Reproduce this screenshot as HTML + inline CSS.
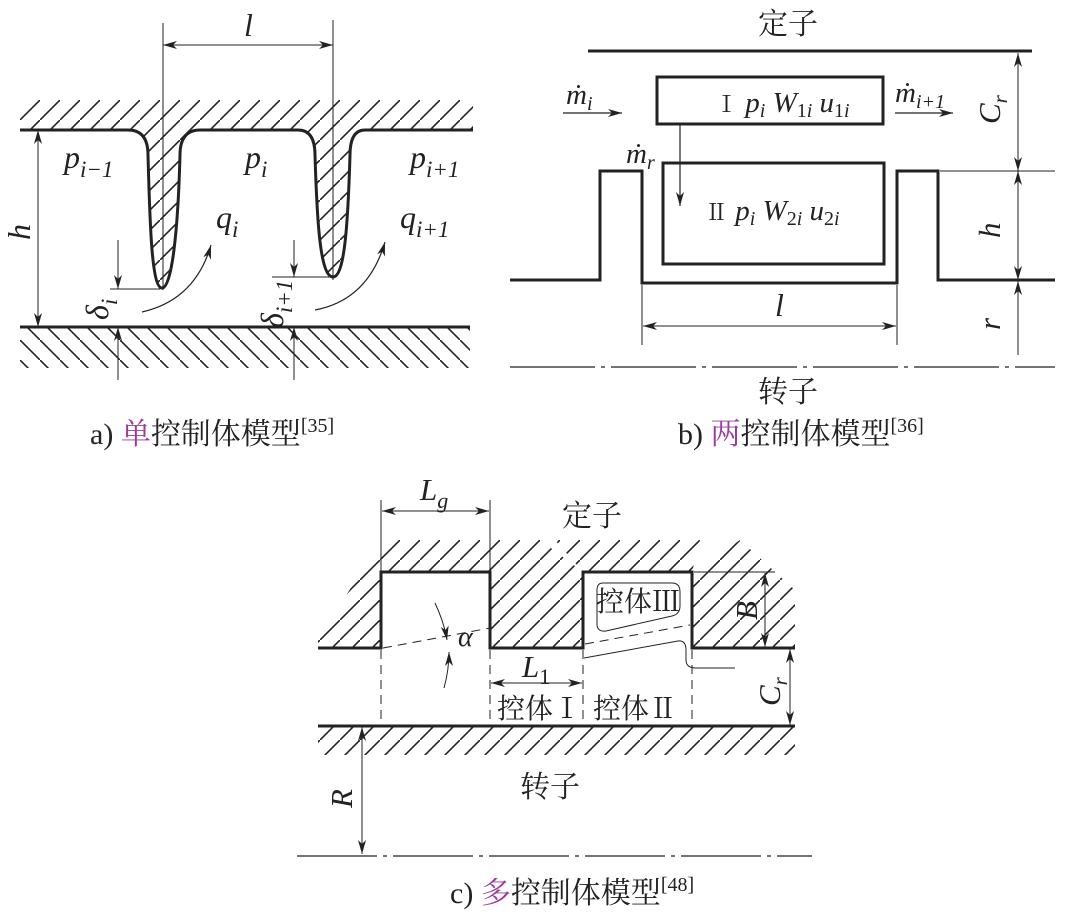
<!DOCTYPE html>
<html><head><meta charset="utf-8"><style>
html,body{margin:0;padding:0;background:#fff;}
svg{display:block;}
text{font-family:"Liberation Serif","Noto Serif CJK SC",serif;fill:#222;}
.it{font-style:italic;}
</style></head><body>
<svg width="1071" height="916" viewBox="0 0 1071 916" xmlns="http://www.w3.org/2000/svg">
<defs>
<pattern id="hs" patternUnits="userSpaceOnUse" width="20" height="20"><line x1="-1" y1="21" x2="21" y2="-1" stroke="#222" stroke-width="1.6"/></pattern>
<pattern id="hb" patternUnits="userSpaceOnUse" width="20" height="20"><line x1="-1" y1="-1" x2="21" y2="21" stroke="#222" stroke-width="1.6"/></pattern>
<marker id="ar" viewBox="0 0 14 8" refX="14" refY="4" markerWidth="14" markerHeight="8" orient="auto-start-reverse" markerUnits="userSpaceOnUse"><path d="M0,0 L14,4 L0,8 L4,4 Z" fill="#222"/></marker>
</defs>
<g stroke="#222" fill="none">
<!-- ===== a ===== -->
<path d="M20,100 H473 V130 H365 Q350,130 350,155 C348,220 345,277 333,277 C320,277 317,220 315,155 Q315,130 298,130 H200 Q180,130 180,155 C178,230 172,288 162,288 C152,288 150,230 148,155 Q148,130 128,130 H20 Z" fill="url(#hs)" stroke="none"/>
<path d="M20,130 H128 Q148,130 148,155 C150,230 152,288 162,288 C172,288 178,230 180,155 Q180,130 200,130 H298 Q315,130 315,155 C317,220 320,277 333,277 C345,277 348,220 350,155 Q350,130 365,130 H473" stroke-width="3"/>
<rect x="20" y="328" width="450" height="40" fill="url(#hb)" stroke="none"/>
<line x1="20" y1="327" x2="470" y2="327" stroke-width="3"/>
<line x1="163" y1="23" x2="163" y2="290" stroke-width="1"/>
<line x1="333" y1="20" x2="333" y2="280" stroke-width="1"/>
<line x1="163" y1="45" x2="333" y2="45" stroke-width="1" marker-start="url(#ar)" marker-end="url(#ar)"/>
<line x1="38" y1="130" x2="38" y2="327" stroke-width="1" marker-start="url(#ar)" marker-end="url(#ar)"/>
<line x1="110" y1="289" x2="160" y2="289" stroke-width="1"/>
<line x1="118" y1="240" x2="118" y2="289" stroke-width="1" marker-end="url(#ar)"/>
<line x1="118" y1="380" x2="118" y2="327" stroke-width="1" marker-end="url(#ar)"/>
<line x1="272" y1="277" x2="330" y2="277" stroke-width="1"/>
<line x1="294" y1="240" x2="294" y2="277" stroke-width="1" marker-end="url(#ar)"/>
<line x1="294" y1="380" x2="294" y2="327" stroke-width="1" marker-end="url(#ar)"/>
<path d="M142,312 Q195,300 211,245" stroke-width="1.2" marker-end="url(#ar)"/>
<path d="M315,310 Q368,300 385,242" stroke-width="1.2" marker-end="url(#ar)"/>
<!-- ===== b ===== -->
<line x1="588" y1="51" x2="1032" y2="51" stroke-width="3"/>
<rect x="657" y="77" width="226" height="47" stroke-width="3"/>
<rect x="663" y="163" width="221" height="101" stroke-width="3"/>
<path d="M510,280 H600 V171 H642 V283 H897 V171 H938 V280 H1055" stroke-width="3"/>
<line x1="563" y1="113" x2="622" y2="113" stroke-width="1.2" marker-end="url(#ar)"/>
<line x1="895" y1="113" x2="953" y2="113" stroke-width="1.2" marker-end="url(#ar)"/>
<line x1="680" y1="124" x2="680" y2="206" stroke-width="1.2" marker-end="url(#ar)"/>
<line x1="940" y1="171" x2="1055" y2="171" stroke-width="1"/>
<line x1="1018" y1="53" x2="1018" y2="171" stroke-width="1" marker-start="url(#ar)" marker-end="url(#ar)"/>
<line x1="1018" y1="171" x2="1018" y2="280" stroke-width="1" marker-start="url(#ar)" marker-end="url(#ar)"/>
<line x1="1018" y1="355" x2="1018" y2="281" stroke-width="1" marker-end="url(#ar)"/>
<line x1="642" y1="285" x2="642" y2="345" stroke-width="1"/>
<line x1="897" y1="285" x2="897" y2="345" stroke-width="1"/>
<line x1="643" y1="326" x2="896" y2="326" stroke-width="1" marker-start="url(#ar)" marker-end="url(#ar)"/>
<line x1="510" y1="367" x2="1055" y2="367" stroke-width="1.2" stroke-dasharray="85,6,4,6"/>
<!-- ===== c ===== -->
<path d="M318,648 L318,640 L381,540 V648 Z M381,572 H490 L490,540 L381,540 Z M490,540 L540,540 L583,572 V648 H490 Z M555,540 L700,540 L692,572 H583 Z M692,572 L740,540 L795,590 V648 H692 Z" fill="url(#hs)" stroke="none"/>
<path d="M318,648 H381 V572 H490 V648 H583 V572 H692 V648 H795" stroke-width="3"/>
<rect x="318" y="727" width="477" height="28" fill="url(#hs)" stroke="none"/>
<line x1="318" y1="726" x2="795" y2="726" stroke-width="3"/>
<g stroke-width="1" stroke-dasharray="9,6">
<line x1="381" y1="650" x2="381" y2="726"/><line x1="490" y1="650" x2="490" y2="726"/><line x1="583" y1="650" x2="583" y2="726"/><line x1="692" y1="650" x2="692" y2="726"/>
<line x1="383" y1="648" x2="490" y2="628"/>
<line x1="585" y1="644" x2="690" y2="625"/>
</g>
<line x1="381" y1="500" x2="381" y2="572" stroke-width="1"/>
<line x1="490" y1="500" x2="490" y2="572" stroke-width="1"/>
<line x1="382" y1="511" x2="489" y2="511" stroke-width="1" marker-start="url(#ar)" marker-end="url(#ar)"/>
<line x1="491" y1="683" x2="582" y2="683" stroke-width="1" marker-start="url(#ar)" marker-end="url(#ar)"/>
<path d="M435,603 Q444,622 447,640" stroke-width="1" marker-end="url(#ar)"/>
<path d="M444,688 Q449,670 449,652" stroke-width="1" marker-end="url(#ar)"/>
<path d="M603,583 H672 Q680,583 680,592 V606 Q680,614 672,616 L606,631 Q597,632 597,624 V590 Q597,583 603,583 Z" stroke-width="1"/>
<path d="M584,658 L678,641 Q686,640 686,650 V660 Q686,668 696,668 H735" stroke-width="1"/>
<line x1="694" y1="572" x2="775" y2="572" stroke-width="1"/>
<line x1="765" y1="573" x2="765" y2="647" stroke-width="1" marker-start="url(#ar)" marker-end="url(#ar)"/>
<line x1="790" y1="649" x2="790" y2="725" stroke-width="1" marker-start="url(#ar)" marker-end="url(#ar)"/>
<line x1="362" y1="727" x2="362" y2="854" stroke-width="1" marker-start="url(#ar)" marker-end="url(#ar)"/>
<line x1="297" y1="856" x2="812" y2="856" stroke-width="1.2" stroke-dasharray="80,6,4,6"/>
</g>
<!-- texts a -->
<text x="244" y="36" font-size="32" class="it">l</text>
<text x="64" y="168" font-size="32" class="it">p<tspan font-size="23" dy="9">i−1</tspan></text>
<text x="245" y="168" font-size="32" class="it">p<tspan font-size="23" dy="9">i</tspan></text>
<text x="410" y="168" font-size="32" class="it">p<tspan font-size="23" dy="9">i+1</tspan></text>
<text x="216" y="228" font-size="32" class="it">q<tspan font-size="23" dy="9">i</tspan></text>
<text x="400" y="228" font-size="32" class="it">q<tspan font-size="23" dy="9">i+1</tspan></text>
<text transform="translate(30,240) rotate(-90)" font-size="32" class="it">h</text>
<text transform="translate(108,320) rotate(-90)" font-size="32" class="it">δ<tspan font-size="23" dy="9">i</tspan></text>
<text transform="translate(283,328) rotate(-90)" font-size="32" class="it">δ<tspan font-size="23" dy="9">i+1</tspan></text>
<text x="90" y="444" font-size="30">a) <tspan fill="#9b3a9b">单</tspan>控制体模型<tspan font-size="20" dy="-12">[35]</tspan></text>
<!-- texts b -->
<text x="758" y="34" font-size="30">定子</text>
<text x="566" y="104" font-size="29" class="it">ṁ<tspan font-size="20" dy="6">i</tspan></text>
<text x="895" y="102" font-size="29" class="it">ṁ<tspan font-size="20" dy="6">i+1</tspan></text>
<text x="626" y="163" font-size="29" class="it">ṁ<tspan font-size="20" dy="6">r</tspan></text>
<text x="715" y="112" font-size="29"><tspan font-size="23">Ⅰ</tspan> <tspan class="it">p</tspan><tspan class="it" font-size="20" dy="5">i</tspan><tspan dy="-5"> </tspan><tspan class="it">W</tspan><tspan font-size="20" dy="5">1<tspan class="it">i</tspan></tspan><tspan dy="-5"> </tspan><tspan class="it">u</tspan><tspan font-size="20" dy="5">1<tspan class="it">i</tspan></tspan></text>
<text x="705" y="220" font-size="29"><tspan font-size="23">Ⅱ</tspan> <tspan class="it">p</tspan><tspan class="it" font-size="20" dy="5">i</tspan><tspan dy="-5"> </tspan><tspan class="it">W</tspan><tspan font-size="20" dy="5">2<tspan class="it">i</tspan></tspan><tspan dy="-5"> </tspan><tspan class="it">u</tspan><tspan font-size="20" dy="5">2<tspan class="it">i</tspan></tspan></text>
<text transform="translate(1000,124) rotate(-90)" font-size="31" class="it">C<tspan font-size="21" dy="7">r</tspan></text>
<text transform="translate(1000,238) rotate(-90)" font-size="31" class="it">h</text>
<text transform="translate(1000,330) rotate(-90)" font-size="31" class="it">r</text>
<text x="775" y="316" font-size="32" class="it">l</text>
<text x="758" y="402" font-size="30">转子</text>
<text x="678" y="444" font-size="30">b) <tspan fill="#9b3a9b">两</tspan>控制体模型<tspan font-size="20" dy="-12">[36]</tspan></text>
<!-- texts c -->
<text x="420" y="500" font-size="31" class="it">L<tspan font-size="22" dy="8">g</tspan></text>
<text x="562" y="526" font-size="30">定子</text>
<text x="458" y="646" font-size="28" class="it">α</text>
<text x="522" y="677" font-size="31" class="it">L<tspan font-size="22" dy="7" font-style="normal">1</tspan></text>
<text x="497" y="718" font-size="28">控体Ⅰ</text>
<text x="593" y="718" font-size="28">控体Ⅱ</text>
<text x="596" y="611" font-size="28">控体Ⅲ</text>
<text transform="translate(757,620) rotate(-90)" font-size="31" class="it">B</text>
<text transform="translate(780,706) rotate(-90)" font-size="31" class="it">C<tspan font-size="21" dy="7">r</tspan></text>
<text transform="translate(352,808) rotate(-90)" font-size="31" class="it">R</text>
<text x="520" y="797" font-size="30">转子</text>
<text x="450" y="903" font-size="30">c) <tspan fill="#9b3a9b">多</tspan>控制体模型<tspan font-size="20" dy="-12">[48]</tspan></text>
</svg>
</body></html>
